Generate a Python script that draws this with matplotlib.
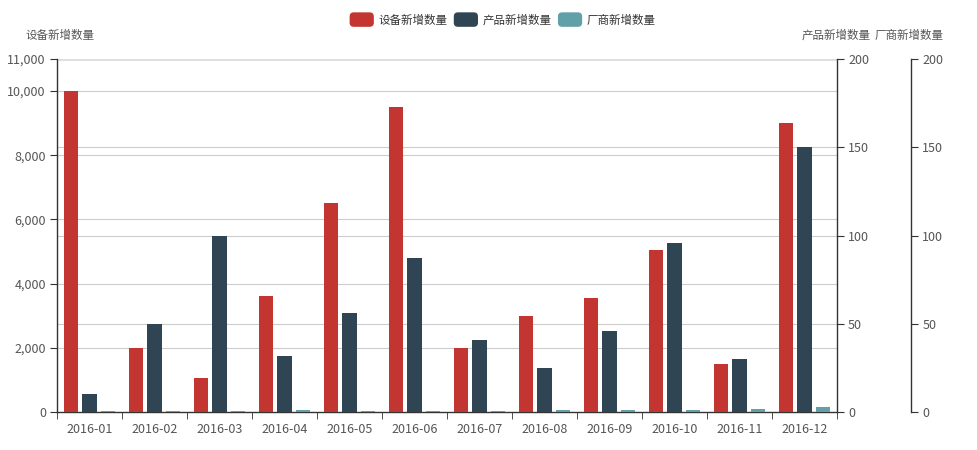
import matplotlib
matplotlib.use('Agg')
import matplotlib.pyplot as plt
from matplotlib.patches import FancyBboxPatch
from matplotlib.legend_handler import HandlerPatch
import numpy as np

plt.rcParams['font.family'] = ['Noto Sans CJK SC', 'DejaVu Sans']

months = ['2016-01', '2016-02', '2016-03', '2016-04', '2016-05', '2016-06',
          '2016-07', '2016-08', '2016-09', '2016-10', '2016-11', '2016-12']
device_new = [10000, 2000, 1050, 3600, 6500, 9500, 2000, 3000, 3550, 5050, 1500, 9000]
product_new = [10, 50, 100, 32, 56, 87, 41, 25, 46, 96, 30, 150]
vendor_new = [0.5, 0.5, 0.7, 1.1, 0.7, 0.5, 0.5, 1.1, 1.2, 1.3, 1.6, 2.6]

names = ['设备新增数量', '产品新增数量', '厂商新增数量']
colors = ['#c23531', '#2f4554', '#61a0a8']
axis_col = '#333333'
label_col = '#555555'


class RoundBox(HandlerPatch):
    def create_artists(self, legend, orig, xd, yd, width, height, fontsize, trans):
        p = FancyBboxPatch((-xd, -yd - 1.5), width, height + 3,
                           boxstyle='round,pad=0,rounding_size=3',
                           facecolor=orig.get_facecolor(), edgecolor='none',
                           transform=trans)
        return [p]


fig = plt.figure(figsize=(9.78, 4.5), dpi=100)
ax = fig.add_axes([0.0583, 0.0844, 0.7975, 0.7845])
ax2 = ax.twinx()
ax3 = ax.twinx()
ax3.spines['right'].set_position(('axes', 1.095))

x = np.arange(len(months))
w = 0.22
gap = 0.285
b1 = ax.bar(x - gap, device_new, w, color=colors[0], zorder=3)
b2 = ax2.bar(x, product_new, w, color=colors[1], zorder=3)
b3 = ax3.bar(x + gap, vendor_new, w, color=colors[2], zorder=3)

ax.set_xlim(-0.5, len(months) - 0.5)
left_max = 11000
right_max = 200
ax.set_ylim(0, left_max)
left_ticks = [0, 2000, 4000, 6000, 8000, 10000, 11000]
ax.set_yticks(left_ticks)
ax.set_yticklabels(['{:,}'.format(v) for v in left_ticks])
right_ticks = [0, 50, 100, 150, 200]
ax2.set_ylim(0, right_max)
ax2.set_yticks(right_ticks)
ax3.set_ylim(0, right_max)
ax3.set_yticks(right_ticks)

ax.set_xticks(x)
ax.set_xticklabels(months)
ax.set_xticks(np.arange(len(months) + 1) - 0.5, minor=True)
ax.tick_params(axis='x', which='major', length=0, pad=8, labelsize=9, labelcolor=label_col)
ax.tick_params(axis='x', which='minor', length=5, color=axis_col)

for a in (ax, ax2, ax3):
    for s in a.spines.values():
        s.set_visible(False)
    a.tick_params(axis='y', length=5, color=axis_col, labelsize=9, labelcolor=label_col, pad=3)
ax.spines['left'].set_visible(True)
ax.spines['bottom'].set_visible(True)
ax2.spines['right'].set_visible(True)
ax3.spines['right'].set_visible(True)
for s in (ax.spines['left'], ax.spines['bottom'], ax2.spines['right'], ax3.spines['right']):
    s.set_color(axis_col)
    s.set_linewidth(1)

# split lines of both main value axes, kept behind every bar
for v in left_ticks[1:]:
    ax.axhline(v, color='#cccccc', lw=0.8, zorder=0)
for v in right_ticks[1:]:
    ax.axhline(v * left_max / right_max, color='#cccccc', lw=0.8, zorder=0)
ax.axhline(left_max, color='#dddddd', lw=2, zorder=0)
ax2.set_zorder(ax.get_zorder() + 1)
ax3.set_zorder(ax.get_zorder() + 2)
ax2.patch.set_visible(False)
ax3.patch.set_visible(False)

fig.text(0.026, 0.922, names[0], fontsize=8.3, color=label_col, ha='left', va='center')
fig.text(0.890, 0.922, names[1], fontsize=8.3, color=label_col, ha='right', va='center')
fig.text(0.965, 0.922, names[2], fontsize=8.3, color=label_col, ha='right', va='center')

fig.legend([b1[0], b2[0], b3[0]], names, loc='upper center', bbox_to_anchor=(0.514, 0.993), ncol=3,
           frameon=False, fontsize=8.3, handlelength=2.1, handleheight=1.0,
           columnspacing=0.55, handletextpad=0.4, labelcolor='#333333',
           handler_map={b1[0]: RoundBox(), b2[0]: RoundBox(), b3[0]: RoundBox()})

fig.savefig('out.png', dpi=100)
